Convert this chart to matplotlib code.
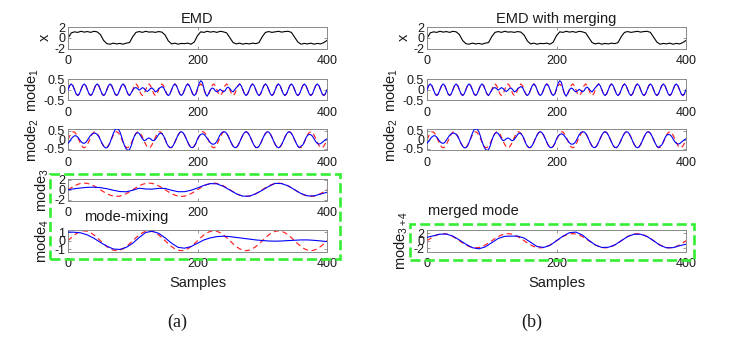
import numpy as np
import matplotlib
matplotlib.use("Agg")
import matplotlib.pyplot as plt
from matplotlib.patches import Rectangle

# ---------------- data ----------------
n_samples = 400
xticks = [0, 200, 400]

# sample grids (sample index on the x axis)
t_fine = np.arange(0, 400.01, 2.5)   # 161 points
t_5 = np.arange(0, 400.01, 5)        # 81 points
t_10 = np.arange(0, 400.01, 10)      # 41 points

# observed signal x (step 5)
x_signal = [-0.1, 0.9, 1.1, 1.0, 1.2, 1.05, 1.15, 1.0, 1.2, 1.1,
            0.6, -0.5, -1.1, -1.2, -1.0, -1.15, -1.05, -1.2, -1.0, -0.9,
            0.2, 1.0, 1.15, 1.0, 1.2, 1.05, 1.1, 1.0, 1.15, 1.05,
            0.5, -0.6, -1.15, -1.0, -1.2, -1.05, -1.1, -1.0, -1.2, -0.8,
            0.4, 1.1, 1.0, 1.2, 1.05, 1.15, 1.0, 1.2, 1.1, 0.9,
            0.0, -0.9, -1.15, -1.0, -1.2, -1.05, -1.15, -1.0, -1.1, -0.9,
            0.2, 1.0, 1.15, 1.0, 1.1, 1.2, 1.05, 1.15, 1.2, 1.0,
            0.1, -0.8, -1.2, -1.05, -1.15, -1.0, -1.2, -1.05, -1.15, -0.9,
            -0.5]

# mode 1, true component (red dashed), step 2.5
mode1_true = [
    0, .19, .27, .19, 0, -.19, -.27, -.19, 0, .19, .27, .19, 0, -.19, -.27, -.19,
    0, .19, .27, .19, 0, -.19, -.27, -.19, 0, .19, .27, .19, 0, -.19, -.27, -.19,
    0, .19, .27, .19, 0, -.19, -.27, -.19, 0, .19, .27, .19, 0, -.19, -.27, -.19,
    0, .19, .27, .19, 0, -.19, -.27, -.19, 0, .19, .27, .19, 0, -.19, -.27, -.19,
    0, .19, .27, .19, 0, -.19, -.27, -.19, 0, .19, .27, .19, 0, -.19, -.27, -.19,
    0, .19, .27, .19, 0, -.19, -.27, -.19, 0, .19, .27, .19, 0, -.19, -.27, -.19,
    0, .19, .27, .19, 0, -.19, -.27, -.19, 0, .19, .27, .19, 0, -.19, -.27, -.19,
    0, .19, .27, .19, 0, -.19, -.27, -.19, 0, .19, .27, .19, 0, -.19, -.27, -.19,
    0, .19, .27, .19, 0, -.19, -.27, -.19, 0, .19, .27, .19, 0, -.19, -.27, -.19,
    0, .19, .27, .19, 0, -.19, -.27, -.19, 0, .19, .27, .19, 0, -.19, -.27, -.19,
    0]
# estimated mode 1 where it departs from the true one
mode1_est_a = [-.15, -.02, .08, .1, .05, -.02, .04, .1, .06, -.04, -.08, -.02,
               .06, .08, 0, -.1, -.06, .05, .1, .15, .1, -.05, -.2]        # t 97.5..152.5
mode1_est_b = [.05, .3, .42, .35, .05, -.2, -.3, -.15, 0, .08, .05, -.05, -.1,
               -.05, .02, -.04, -.1, -.05, .08, .12, .05, -.05, -.1, 0, .1, .18, .27]  # t 200..265

# mode 2, true component (red dashed), step 2.5
mode2_true = [
    0, .20, .36, .44, .43, .32, .14, -.07, -.26, -.40, -.45, -.40, -.26, -.07, .14, .32, .43, .44, .36, .20,
    0, -.20, -.36, -.44, -.43, -.32, -.14, .07, .26, .40, .45, .40, .26, .07, -.14, -.32, -.43, -.44, -.36, -.20,
    0, .20, .36, .44, .43, .32, .14, -.07, -.26, -.40, -.45, -.40, -.26, -.07, .14, .32, .43, .44, .36, .20,
    0, -.20, -.36, -.44, -.43, -.32, -.14, .07, .26, .40, .45, .40, .26, .07, -.14, -.32, -.43, -.44, -.36, -.20,
    0, .20, .36, .44, .43, .32, .14, -.07, -.26, -.40, -.45, -.40, -.26, -.07, .14, .32, .43, .44, .36, .20,
    0, -.20, -.36, -.44, -.43, -.32, -.14, .07, .26, .40, .45, .40, .26, .07, -.14, -.32, -.43, -.44, -.36, -.20,
    0, .20, .36, .44, .43, .32, .14, -.07, -.26, -.40, -.45, -.40, -.26, -.07, .14, .32, .43, .44, .36, .20,
    0, -.20, -.36, -.44, -.43, -.32, -.14, .07, .26, .40, .45, .40, .26, .07, -.14, -.32, -.43, -.44, -.36, -.20,
    0]
mode2_est_a = [-.2, -.1, .05, .15, .22, .22, .15, .02, -.1, -.18, -.2, -.15, -.02, .12,
               .25, .33, .37, .36, .3, .18, 0, -.2, -.35, -.45, -.45, -.35, -.15, .1,
               .35, .55, .62, .6, .45, .2, -.1, -.35, -.52, -.6, -.55, -.35, -.05, .2,
               .35, .4, .35, .2, .05, -.05, -.02, .06, .1, .05, -.03, -.05, .02, .15,
               .3, .37, .35, .22, .05]                                         # t 0..150
mode2_est_b = [.05, .2, .3, .33, .3, .2, .08, -.05, -.17, -.24, -.25, -.2, -.08,
               .1, .28, .4, .44]                                               # t 200..240
mode2_est_c = [-.35, -.3, -.1, .1, .25, .3, .28, .2, .05, -.1, -.2, -.24, -.22,
               -.15, -.07, 0, .05]                                             # t 360..400

# mode 3 (step 5 true, step 10 estimate)
mode3_true = [0, .40, .76, 1.05, 1.24, 1.3, 1.24, 1.05, .76, .40,
              0, -.40, -.76, -1.05, -1.24, -1.3, -1.24, -1.05, -.76, -.40,
              0, .40, .76, 1.05, 1.24, 1.3, 1.24, 1.05, .76, .40,
              0, -.40, -.76, -1.05, -1.24, -1.3, -1.24, -1.05, -.76, -.40,
              0, .40, .76, 1.05, 1.24, 1.3, 1.24, 1.05, .76, .40,
              0, -.40, -.76, -1.05, -1.24, -1.3, -1.24, -1.05, -.76, -.40,
              0, .40, .76, 1.05, 1.24, 1.3, 1.24, 1.05, .76, .40,
              0, -.40, -.76, -1.05, -1.24, -1.3, -1.24, -1.05, -.76, -.40,
              0]
mode3_est = [0.0, 0.2, 0.35, 0.47, 0.5, 0.42, 0.2, -0.1, -0.35, -0.4,
             -0.1, 0.3, 0.15, 0.12, 0.28, 0.25, -0.1, -0.38, -0.38, -0.1,
             0.35, 0.85, 1.2, 1.15, 0.65, -0.05, -0.8, -1.25, -1.25, -0.8,
             -0.1, 0.65, 1.25, 1.2, 0.75, 0.0, -0.75, -1.2, -1.2, -0.85,
             -0.5]

# mode 4
mode4_true = [0, .37, .71, .97, 1.14, 1.2, 1.14, .97, .71, .37,
              0, -.37, -.71, -.97, -1.14, -1.2, -1.14, -.97, -.71, -.37,
              0, .37, .71, .97, 1.14, 1.2, 1.14, .97, .71, .37,
              0, -.37, -.71, -.97, -1.14, -1.2, -1.14, -.97, -.71, -.37,
              0, .37, .71, .97, 1.14, 1.2, 1.14, .97, .71, .37,
              0, -.37, -.71, -.97, -1.14, -1.2, -1.14, -.97, -.71, -.37,
              0, .37, .71, .97, 1.14, 1.2, 1.14, .97, .71, .37,
              0, -.37, -.71, -.97, -1.14, -1.2, -1.14, -.97, -.71, -.37,
              0]
mode4_est = [1.05, 1.03, 0.95, 0.7, 0.3, -0.2, -0.65, -1.0, -1.05, -0.8,
             -0.3, 0.4, 1.0, 1.15, 0.9, 0.35, -0.3, -0.8, -0.9, -0.7,
             -0.3, 0.1, 0.35, 0.5, 0.55, 0.5, 0.4, 0.3, 0.2, 0.1,
             0.03, -0.03, -0.05, -0.03, 0.02, 0.06, 0.1, 0.1, 0.05, -0.02,
             -0.1]

# merged mode 3+4
merged_true = [0, .57, 1.09, 1.5, 1.76, 1.85, 1.76, 1.5, 1.09, .57,
               0, -.57, -1.09, -1.5, -1.76, -1.85, -1.76, -1.5, -1.09, -.57,
               0, .57, 1.09, 1.5, 1.76, 1.85, 1.76, 1.5, 1.09, .57,
               0, -.57, -1.09, -1.5, -1.76, -1.85, -1.76, -1.5, -1.09, -.57,
               0, .57, 1.09, 1.5, 1.76, 1.85, 1.76, 1.5, 1.09, .57,
               0, -.57, -1.09, -1.5, -1.76, -1.85, -1.76, -1.5, -1.09, -.57,
               0, .57, 1.09, 1.5, 1.76, 1.85, 1.76, 1.5, 1.09, .57,
               0, -.57, -1.09, -1.5, -1.76, -1.85, -1.76, -1.5, -1.09, -.57,
               0]
merged_est = [0.9, 1.3, 1.7, 1.75, 1.2, 0.2, -0.9, -1.8, -2.1, -1.6,
              -0.5, 0.6, 1.15, 1.2, 1.2, 0.7, -0.4, -1.5, -1.75, -1.2,
              0.0, 1.2, 2.1, 2.25, 1.5, 0.1, -1.1, -1.75, -1.7, -1.1,
              0.0, 1.1, 1.7, 1.7, 1.1, 0.0, -1.2, -1.85, -1.8, -1.3,
              -0.9]

# assemble estimated modes 1 and 2 from the true ones plus the read deviations
mode1_est = np.array(mode1_true, dtype=float)
mode1_est[39:39 + len(mode1_est_a)] = mode1_est_a
mode1_est[80:80 + len(mode1_est_b)] = mode1_est_b
mode2_est = np.array(mode2_true, dtype=float)
mode2_est[0:len(mode2_est_a)] = mode2_est_a
mode2_est[80:80 + len(mode2_est_b)] = mode2_est_b
mode2_est[144:144 + len(mode2_est_c)] = mode2_est_c

# ---------------- figure ----------------
plt.rcParams['font.family'] = ['Liberation Sans', 'DejaVu Sans']
plt.rcParams['mathtext.fontset'] = 'custom'
plt.rcParams['mathtext.rm'] = 'Liberation Sans'
plt.rcParams['mathtext.it'] = 'Liberation Sans:italic'
plt.rcParams['axes.unicode_minus'] = False

W, H = 740, 356
fig = plt.figure(figsize=(W / 100, H / 100), dpi=100)
fig.patch.set_facecolor('white')

FRAME = '#8a8a8a'
TXT = '#1a1a1a'
AX_W, AX_H = 259, 21.5


def add_ax(left, top):
    ax = fig.add_axes([left / W, 1 - (top + AX_H) / H, AX_W / W, AX_H / H])
    for s in ax.spines.values():
        s.set_color(FRAME)
        s.set_linewidth(0.7)
    ax.tick_params(direction='in', length=2.5, width=0.6, color=FRAME,
                   top=True, right=True, labelsize=9, labelcolor=TXT)
    ax.tick_params(axis='x', pad=5)
    ax.tick_params(axis='y', pad=2)
    ax.set_xlim(0, n_samples)
    ax.set_xticks(xticks)
    ax.set_xticklabels([str(v) for v in xticks])
    return ax


def set_y(ax, lim, ticks, labels, ylabel):
    ax.set_ylim(-lim, lim)
    ax.set_yticks(ticks)
    ax.set_yticklabels(labels)
    ax.set_ylabel(ylabel, fontsize=10.5, color=TXT, labelpad=2)


def pair(ax, t_true, y_true, t_est, y_est):
    ax.plot(t_true, y_true, color='#ff2020', lw=0.85, ls=(0, (4.5, 3)), zorder=2)
    ax.plot(t_est, y_est, color='#0000ff', lw=0.8, zorder=3)


rows_top = [27, 79, 129, 179, 230]
for left, title in [(68, 'EMD'), (427, 'EMD with merging')]:
    ax = add_ax(left, rows_top[0])
    ax.plot(t_5, x_signal, color='black', lw=0.8)
    set_y(ax, 2, [-2, 0, 2], ['-2', '0', '2'], 'x')
    ax.set_title(title, fontsize=10.5, color=TXT, pad=3)

    ax = add_ax(left, rows_top[1])
    pair(ax, t_fine, mode1_true, t_fine, mode1_est)
    set_y(ax, 0.5, [-0.5, 0, 0.5], ['-0.5', '0', '0.5'], r'mode$_{\mathregular{1}}$')

    ax = add_ax(left, rows_top[2])
    pair(ax, t_fine, mode2_true, t_fine, mode2_est)
    set_y(ax, 0.6, [-0.5, 0, 0.5], ['-0.5', '0', '0.5'], r'mode$_{\mathregular{2}}$')

# left panel: modes 3 and 4
ax = add_ax(68, rows_top[3])
pair(ax, t_5, mode3_true, t_10, mode3_est)
set_y(ax, 2.1, [-2, 0, 2], ['-2', '0', '2'], r'mode$_{\mathregular{3}}$')

ax = add_ax(68, rows_top[4])
pair(ax, t_5, mode4_true, t_10, mode4_est)
set_y(ax, 1.3, [-1, 0, 1], ['-1', '0', '1'], r'mode$_{\mathregular{4}}$')

# right panel: merged mode
ax = add_ax(427, rows_top[4])
pair(ax, t_5, merged_true, t_10, merged_est)
set_y(ax, 2.8, [-2, 0, 2], ['-2', '0', '2'], r'mode$_{\mathregular{3+4}}$')

# annotations
fig.text(84 / W, 1 - 217 / H, 'mode-mixing', fontsize=10.5, color=TXT, ha='left', va='center')
fig.text(428 / W, 1 - 211 / H, 'merged mode', fontsize=10.5, color=TXT, ha='left', va='center')
for cx in (197.5, 556.5):
    fig.text(cx / W, 1 - 283 / H, 'Samples', fontsize=10.5, color=TXT, ha='center', va='center')
fig.text(177 / W, 1 - 322 / H, '(a)', fontsize=13, family='Liberation Serif', color=TXT,
         ha='center', va='center')
fig.text(532 / W, 1 - 322 / H, '(b)', fontsize=13, family='Liberation Serif', color=TXT,
         ha='center', va='center')

# green dashed boxes
GREEN = '#33ee33'
for (x0, y0, x1, y1) in [(50, 174, 340, 259), (410, 224, 694, 260)]:
    fig.add_artist(Rectangle((x0 / W, 1 - y1 / H), (x1 - x0) / W, (y1 - y0) / H,
                             transform=fig.transFigure, fill=False, ec=GREEN,
                             lw=1.9, ls=(0, (3.8, 1.6)), zorder=10))

fig.savefig('out.png', dpi=100, facecolor='white')
